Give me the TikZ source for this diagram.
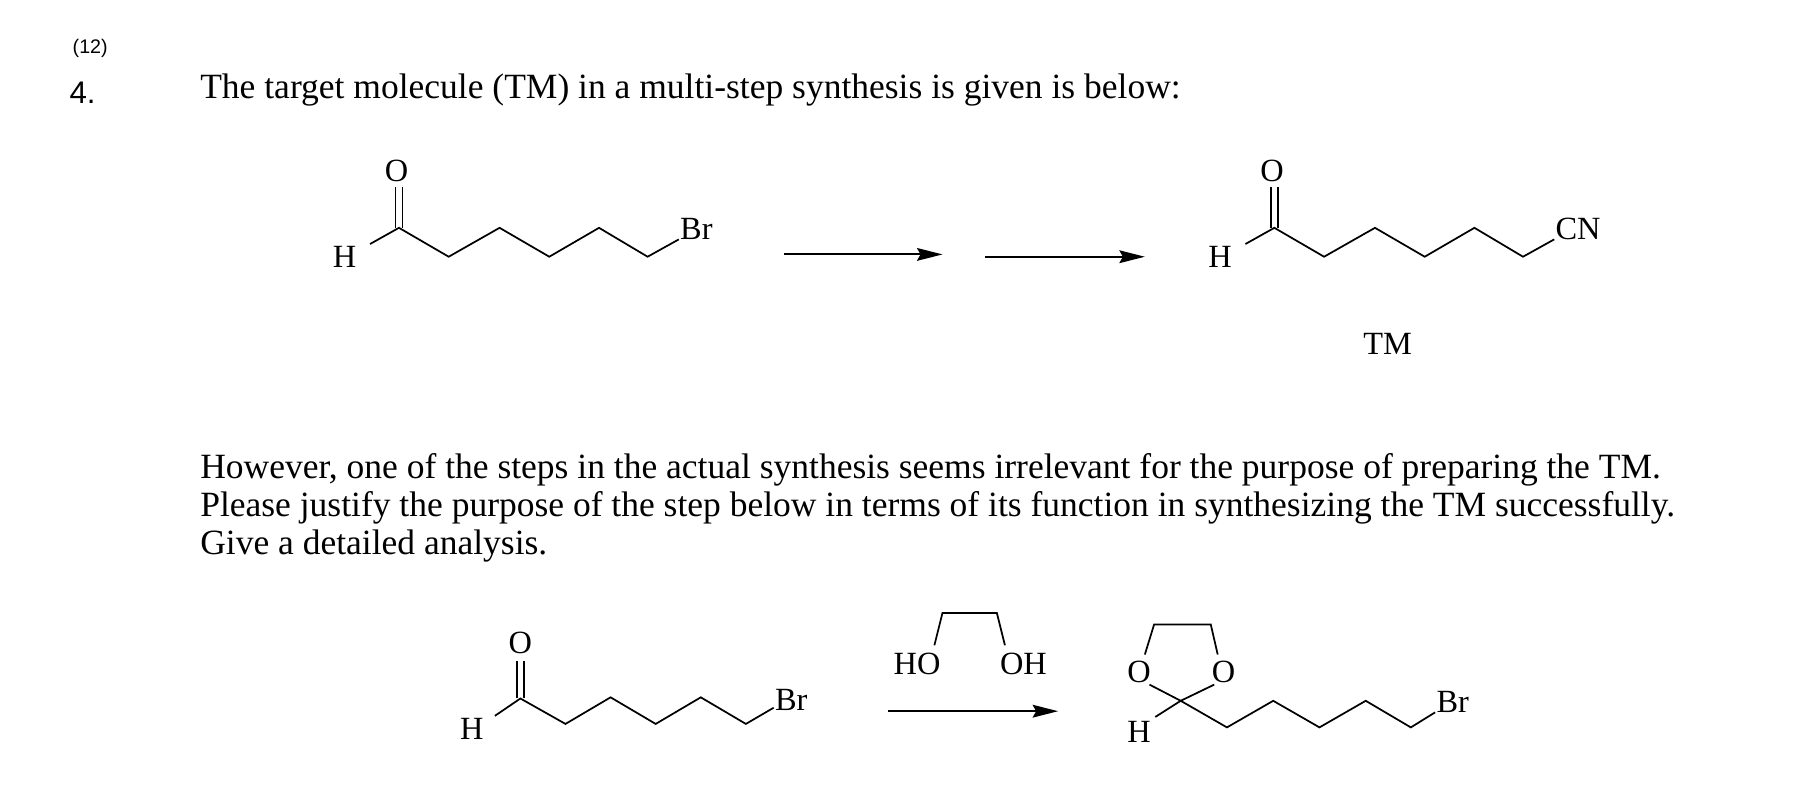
\documentclass[tikz,border=0pt]{standalone}
\usepackage{fontspec}
\setmainfont{Liberation Serif}
\newfontfamily\arialf{Liberation Sans}
\usetikzlibrary{arrows.meta}
\begin{document}
\begin{tikzpicture}[x=1pt,y=-1pt,
  bond/.style={line width=1.5pt},
  atom/.style={inner sep=0pt,font=\fontsize{28}{32}\selectfont},
  txt/.style={inner sep=0pt,anchor=west,font=\fontsize{30.7}{34}\selectfont,align=left},
  rxn/.style={line width=1.7pt,-{Stealth[length=22pt,width=11pt,inset=3pt]}}]
\useasboundingbox (0,0) rectangle (1560,702);
\node[inner sep=0pt,font=\arialf\fontsize{17}{20}\selectfont] (num) at (78,42) {(12)};
\node[inner sep=0pt,anchor=west,font=\arialf\fontsize{27}{30}\selectfont] (q) at (60,80) {4.};
\node[txt] (title) at (173,78) {The target molecule (TM) in a multi-step synthesis is given is below:};
% molecule 1 and TM
\foreach \dx/\lab/\nm in {0/Br/a,757/CN/b}{
\begin{scope}[xshift=\dx pt]
\node[atom] (H\nm) at (298,222) {H};
\node[atom] (O\nm) at (343,148) {O};
\node[atom,anchor=west] (X\nm) at (588,198) {\lab};
\coordinate (c1\nm) at (345,197);
\draw[bond] (320,211) -- (c1\nm) -- (388,222) -- (432,197) -- (475,222) -- (518,197) -- (560,222) -- (587,207);
\draw[bond] ([xshift=-3pt]c1\nm) -- ++(0,-35);
\draw[bond] ([xshift=3pt]c1\nm) -- ++(0,-35);
\end{scope}}
\node[inner sep=0pt,font=\fontsize{28}{32}\selectfont] (TM) at (1200,297) {TM};
\coordinate (a1s) at (678,220); \coordinate (a1e) at (815,220);
\coordinate (a2s) at (852,222); \coordinate (a2e) at (990,222);
\draw[rxn] (a1s) -- (a1e);
\draw[rxn] (a2s) -- (a2e);
\node[txt] (para) at (173,439) {However, one of the steps in the actual synthesis seems irrelevant for the purpose of preparing the TM.\\[-1pt]
Please justify the purpose of the step below in terms of its function in synthesizing the TM successfully.\\[-1pt]
Give a detailed analysis.};
% molecule 3
\node[atom] (H3) at (408,630) {H};
\node[atom] (O3) at (450,556) {O};
\node[atom,anchor=west] (Br3) at (670,605) {Br};
\coordinate (c13) at (450,604);
\draw[bond] (428,619) -- (c13) -- (489,626) -- (528,603) -- (567,626) -- (606,603) -- (645,626) -- (669,612);
\draw[bond] ([xshift=-3pt]c13) -- ++(0,-32);
\draw[bond] ([xshift=3pt]c13) -- ++(0,-32);
\coordinate (a3s) at (768,615); \coordinate (a3e) at (915,615);
\draw[rxn] (a3s) -- (a3e);
% ethylene glycol
\node[atom] (HO) at (793,574) {HO};
\node[atom] (OH) at (885,574) {OH};
\draw[bond] (808,558) -- (815,530) -- (862,530) -- (869,558);
% acetal
\node[atom] (Ol) at (985,581) {O};
\node[atom] (Or) at (1058,581) {O};
\node[atom] (H4) at (985,633) {H};
\node[atom,anchor=west] (Br4) at (1242,607) {Br};
\coordinate (c4) at (1021,606);
\draw[bond] (990,566) -- (998,540) -- (1047,540) -- (1053,566);
\draw[bond] (994,592) -- (c4) -- (1050,592);
\draw[bond] (999,620) -- (c4) -- (1061,629) -- (1101,606) -- (1141,629) -- (1181,606) -- (1220,629) -- (1241,616);
\end{tikzpicture}
\end{document}
